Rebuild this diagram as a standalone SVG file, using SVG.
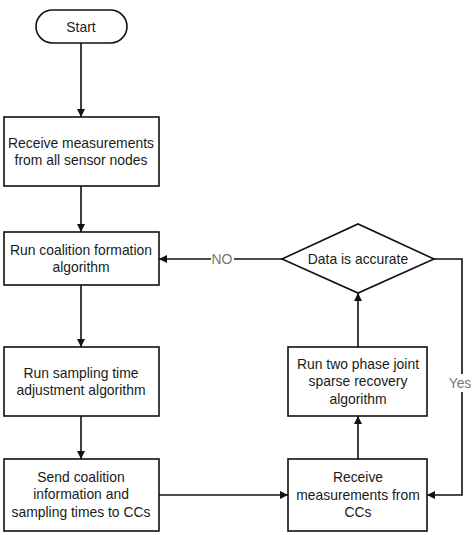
<svg xmlns="http://www.w3.org/2000/svg" width="474" height="535" viewBox="0 0 474 535">
<defs>
<marker id="ah" viewBox="0 0 10 10" refX="10" refY="5" markerWidth="8" markerHeight="8" markerUnits="userSpaceOnUse" orient="auto">
<path d="M0,0 L10,5 L0,10 z" fill="#111"/>
</marker>
</defs>
<style>
.n{fill:#fff;stroke:#111;stroke-width:1.6}
.t{font-family:"Liberation Sans",Arial,sans-serif;font-size:13.9px;fill:#1a1a1a;text-anchor:middle;dominant-baseline:central}
.c{fill:none;stroke:#111;stroke-width:1.6;marker-end:url(#ah)}
.l{font-family:"Liberation Sans",Arial,sans-serif;font-size:13.9px;fill:#777;text-anchor:middle;dominant-baseline:central}
</style>
<rect width="474" height="535" fill="#fff"/>
<g id="connectors">
<path class="c" d="M81,43 V117"/>
<path class="c" d="M81,186 V232"/>
<path class="c" d="M81,285 V347"/>
<path class="c" d="M81,416 V459"/>
<path class="c" d="M159,495 H288"/>
<path class="c" d="M358,459 V416"/>
<path class="c" d="M358,347 V293"/>
<path class="c" d="M282,259 H159"/>
<path class="c" d="M434,259 H462 V495 H427"/>
<rect x="211" y="251" width="23" height="16" fill="#fff"/>
<text class="l" x="222" y="259">NO</text>
<rect x="449" y="374" width="22" height="18" fill="#fff"/>
<text class="l" x="460" y="383">Yes</text>
</g>
<g id="start">
<rect class="n" x="36" y="10" width="91" height="33" rx="16.5"/>
<text class="t" x="81" y="27">Start</text>
</g>
<g id="receive-all">
<rect class="n" x="4" y="117" width="155" height="69"/>
<text class="t" x="81" y="143">Receive measurements</text>
<text class="t" x="81" y="160">from all sensor nodes</text>
</g>
<g id="coalition">
<rect class="n" x="4" y="232" width="155" height="53"/>
<text class="t" x="81" y="250">Run coalition formation</text>
<text class="t" x="81" y="267">algorithm</text>
</g>
<g id="sampling">
<rect class="n" x="4" y="347" width="155" height="69"/>
<text class="t" x="81" y="373">Run sampling time</text>
<text class="t" x="81" y="390">adjustment algorithm</text>
</g>
<g id="send">
<rect class="n" x="4" y="459" width="155" height="72"/>
<text class="t" x="81" y="477">Send coalition</text>
<text class="t" x="81" y="494">information and</text>
<text class="t" x="81" y="512">sampling times to CCs</text>
</g>
<g id="decision">
<polygon class="n" points="282,259 358,224 434,259 358,293"/>
<text class="t" x="358" y="259">Data is accurate</text>
</g>
<g id="recovery">
<rect class="n" x="288" y="347" width="139" height="69"/>
<text class="t" x="358" y="364">Run two phase joint</text>
<text class="t" x="358" y="381">sparse recovery</text>
<text class="t" x="358" y="399">algorithm</text>
</g>
<g id="receive-cc">
<rect class="n" x="288" y="459" width="139" height="72"/>
<text class="t" x="358" y="477">Receive</text>
<text class="t" x="358" y="495">measurements from</text>
<text class="t" x="358" y="512">CCs</text>
</g>
</svg>
